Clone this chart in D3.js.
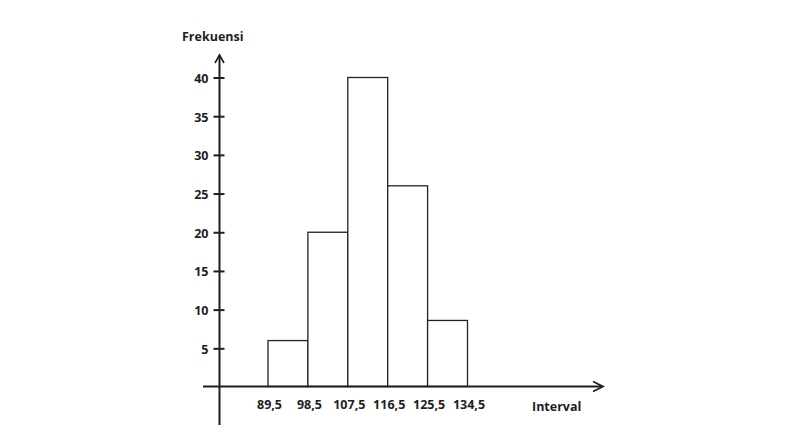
<!DOCTYPE html>
<html><head><meta charset="utf-8">
<script src="https://cdn.jsdelivr.net/npm/d3@7"></script>
<style>
html,body{margin:0;padding:0;background:#fff;}
svg{display:block;}
text{font-family:"Open Sans",sans-serif;font-weight:700;fill:#1e1e1e;}
</style></head>
<body>
<script>
// data
const binEdges = [89.5, 98.5, 107.5, 116.5, 125.5, 134.5];
const frequencies = [6, 20, 40, 26, 8.6];
const yTickValues = [5, 10, 15, 20, 25, 30, 35, 40];
const yAxisTitle = "Frekuensi";
const xAxisTitle = "Interval";

const W = 790, H = 448;
const svg = d3.select("body").append("svg").attr("width", W).attr("height", H);

const x = d3.scaleLinear().domain([89.5, 134.5]).range([268, 467.5]);
const y = d3.scaleLinear().domain([0, 40]).range([387, 77.5]);

const axisX = 219.5, axisY = 386.5;
const ink = "#1e1e1e";

// bars
const bins = frequencies.map((f, i) => ({x0: binEdges[i], x1: binEdges[i + 1], f}));
svg.append("g").selectAll("rect").data(bins).join("rect")
  .attr("x", d => x(d.x0))
  .attr("y", d => y(d.f))
  .attr("width", d => x(d.x1) - x(d.x0))
  .attr("height", d => axisY - y(d.f))
  .attr("fill", "#fff")
  .attr("stroke", "#222")
  .attr("stroke-width", 1.3);

// x axis line with arrow
svg.append("line").attr("x1", 203).attr("x2", 602).attr("y1", axisY).attr("y2", axisY)
  .attr("stroke", ink).attr("stroke-width", 2);
svg.append("path").attr("d", `M593,${axisY-5} L603,${axisY} L593,${axisY+5}`)
  .attr("fill", "none").attr("stroke", ink).attr("stroke-width", 1.8);

// y axis line with arrow
svg.append("line").attr("x1", axisX).attr("x2", axisX).attr("y1", 425).attr("y2", 56)
  .attr("stroke", ink).attr("stroke-width", 2);
svg.append("path").attr("d", `M${axisX-4.5},63 L${axisX},55 L${axisX+4.5},63`)
  .attr("fill", "none").attr("stroke", ink).attr("stroke-width", 1.6);

// y axis ticks
const yAxis = d3.axisLeft(y).tickValues(yTickValues).tickSize(6).tickPadding(6);
const gy = svg.append("g").attr("transform", `translate(${axisX},0)`).call(yAxis);
gy.select(".domain").remove();
gy.selectAll(".tick line").attr("x1", -6).attr("x2", 5).attr("stroke", ink).attr("stroke-width", 2);
gy.selectAll(".tick text").attr("x", -11).attr("dy", "0.4em")
  .style("font-family", '"Open Sans",sans-serif').style("font-weight", 700)
  .attr("font-size", 12.5).attr("fill", ink);

// x axis labels
const xAxis = d3.axisBottom(x).tickValues(binEdges).tickSize(0).tickPadding(14)
  .tickFormat(d => d3.format(".1f")(d).replace(".", ","));
const gx = svg.append("g").attr("transform", `translate(0,${axisY})`).call(xAxis);
gx.select(".domain").remove();
gx.selectAll(".tick text").attr("dx", 1)
  .style("font-family", '"Open Sans",sans-serif').style("font-weight", 700)
  .attr("font-size", 12.5).attr("fill", ink);

// titles
svg.append("text").attr("x", 182).attr("y", 41).attr("font-size", 12.5).text(yAxisTitle);
svg.append("text").attr("x", 532).attr("y", 411).attr("font-size", 12.5).text(xAxisTitle);
</script>
</body></html>
